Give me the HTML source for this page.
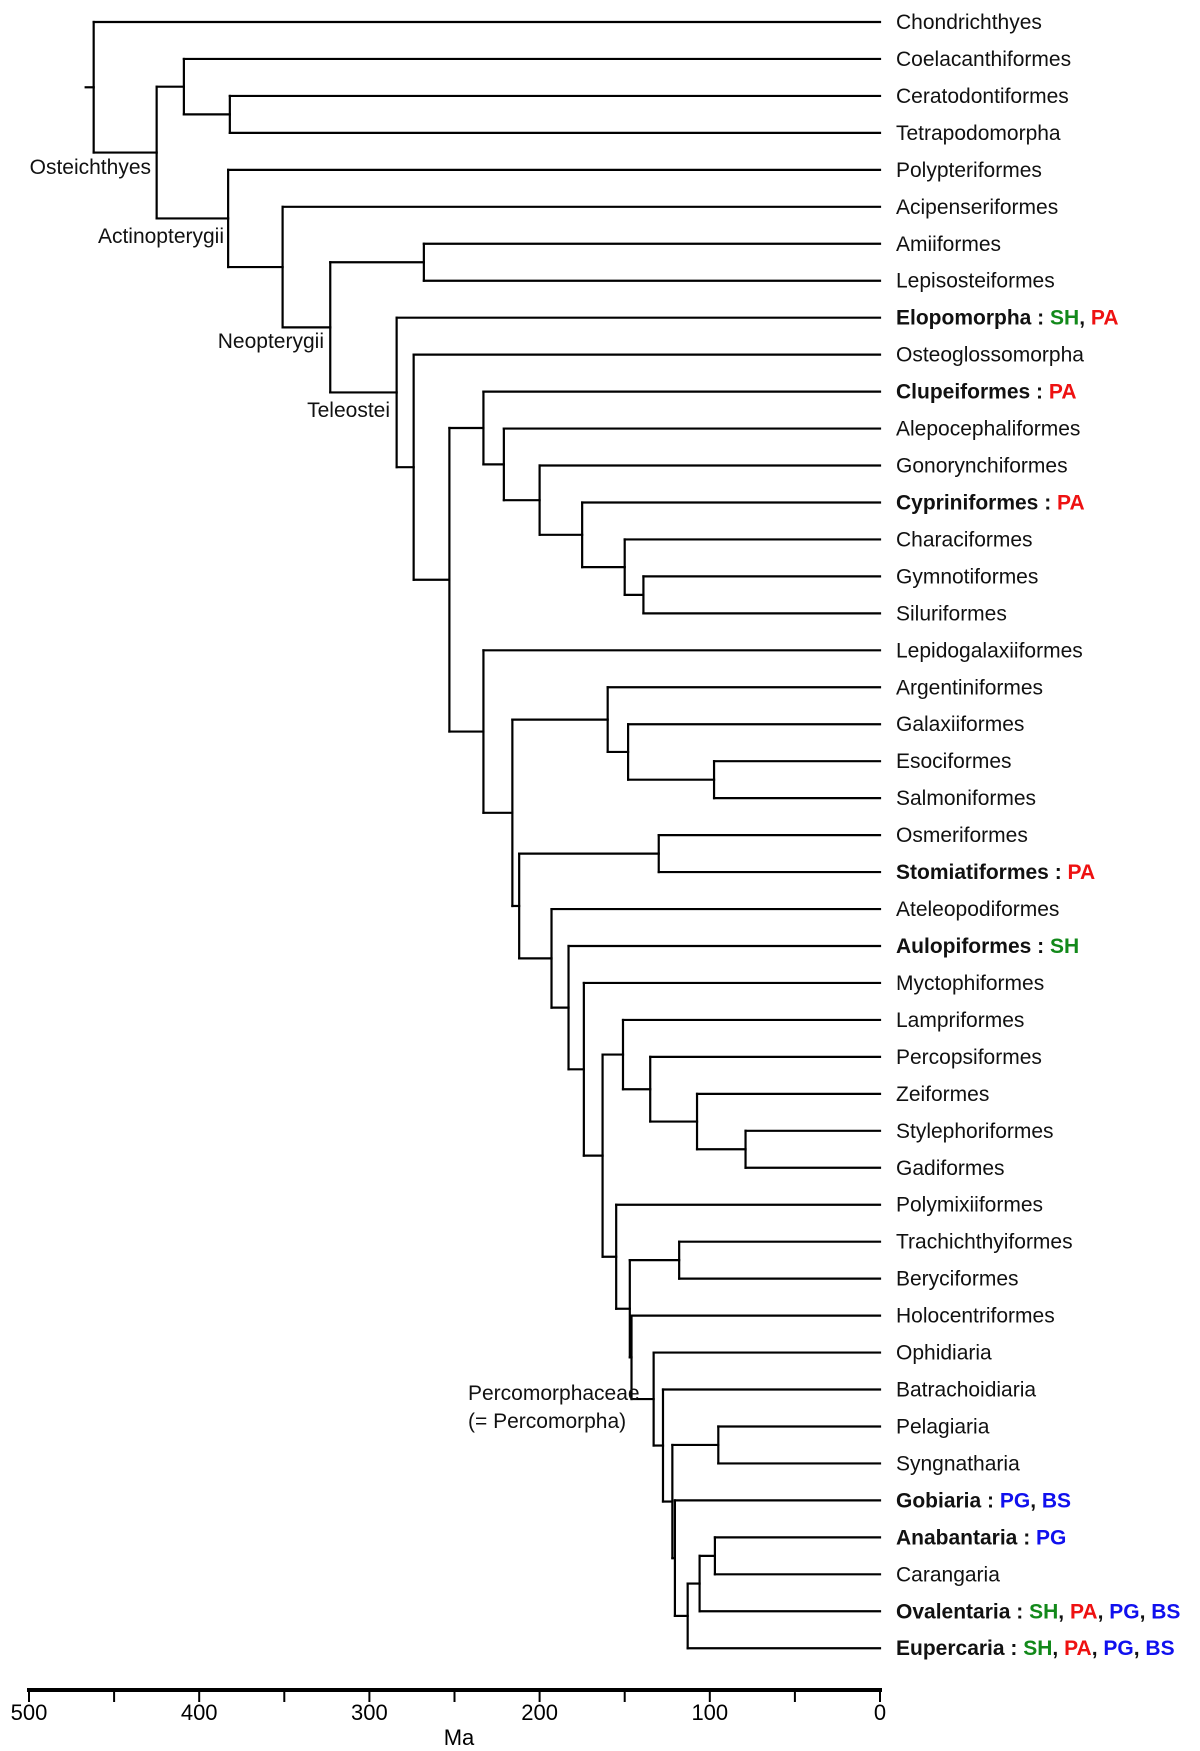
<!DOCTYPE html>
<html><head><meta charset="utf-8">
<style>
html,body{margin:0;padding:0;background:#fff;}
svg{display:block;font-family:"Liberation Sans",sans-serif;}
.lab{font-size:21px;fill:#111;}
</style></head>
<body>
<svg id="chart" width="1200" height="1751" viewBox="0 0 1200 1751">
<g id="branches"></g>
<g id="labels"></g>
<g id="clades">
<text class="lab" x="151" y="174" text-anchor="end">Osteichthyes</text>
<text class="lab" x="224" y="243" text-anchor="end">Actinopterygii</text>
<text class="lab" x="324" y="348" text-anchor="end">Neopterygii</text>
<text class="lab" x="390" y="417" text-anchor="end">Teleostei</text>
<text class="lab" x="468" y="1400">Percomorphaceae</text>
<text class="lab" x="468" y="1428">(= Percomorpha)</text>
</g>
<g id="axis"></g>
</svg>
<script>
const taxa = ["Chondrichthyes","Coelacanthiformes","Ceratodontiformes","Tetrapodomorpha","Polypteriformes","Acipenseriformes","Amiiformes","Lepisosteiformes","Elopomorpha","Osteoglossomorpha","Clupeiformes","Alepocephaliformes","Gonorynchiformes","Cypriniformes","Characiformes","Gymnotiformes","Siluriformes","Lepidogalaxiiformes","Argentiniformes","Galaxiiformes","Esociformes","Salmoniformes","Osmeriformes","Stomiatiformes","Ateleopodiformes","Aulopiformes","Myctophiformes","Lampriformes","Percopsiformes","Zeiformes","Stylephoriformes","Gadiformes","Polymixiiformes","Trachichthyiformes","Beryciformes","Holocentriformes","Ophidiaria","Batrachoidiaria","Pelagiaria","Syngnatharia","Gobiaria","Anabantaria","Carangaria","Ovalentaria","Eupercaria"];
const boldTaxa = ["Elopomorpha","Clupeiformes","Cypriniformes","Stomiatiformes","Aulopiformes","Gobiaria","Anabantaria","Ovalentaria","Eupercaria"];
const tags = {"Elopomorpha":["SH","PA"],"Clupeiformes":["PA"],"Cypriniformes":["PA"],"Stomiatiformes":["PA"],"Aulopiformes":["SH"],"Gobiaria":["PG","BS"],"Anabantaria":["PG"],"Ovalentaria":["SH","PA","PG","BS"],"Eupercaria":["SH","PA","PG","BS"]};
const tagColors = {SH:"#12891a",PA:"#ee1111",PG:"#1010ee",BS:"#1010ee"};
// tree: [age Ma, child, child]; leaves = taxon index
const tree = [462,0,[425,[409,1,[382,2,3]],[383,4,[351,5,[323,[268,6,7],[284,8,[274,9,[253,
  [233,10,[221,11,[200,12,[175,13,[150,14,[139,15,16]]]]]],
  [233,17,[216,[160,18,[148,19,[97.5,20,21]]],[212,[130,22,23],[193,24,[183,25,[174,26,[163,
    [151,27,[135,28,[107.5,29,[79,30,31]]]],
    [155,32,[147,[118,33,34],[146,35,[133,36,[127.5,37,[122,[95,38,39],[120.5,40,[113,[106,[97,41,42],43],44]]]]]]]]
  ]]]]]]]
]]]]]]]];
const axisTicks = [500,450,400,350,300,250,200,150,100,50,0];
const axisLabels = [500,400,300,200,100,0];

const NS="http://www.w3.org/2000/svg";
const X0=880, PX=1.702;
const xOf = ma => X0 - ma*PX;
const yOf = i => 22 + i*36.96;
const gB=document.getElementById('branches'), gL=document.getElementById('labels'), gA=document.getElementById('axis');
function line(g,x1,y1,x2,y2,w,name){
  const l=document.createElementNS(NS,'line');
  l.setAttribute('x1',x1);l.setAttribute('y1',y1);l.setAttribute('x2',x2);l.setAttribute('y2',y2);
  l.setAttribute('stroke','#000');l.setAttribute('stroke-width',w);l.setAttribute('stroke-linecap','square');
  
  
  g.appendChild(l);
}
function draw(node){
  if(typeof node==='number') return {x:X0,y:yOf(node)};
  const x=xOf(node[0]);
  const a=draw(node[1]), b=draw(node[2]);
  line(gB,x,a.y,a.x,a.y,2.2,'branch');
  line(gB,x,b.y,b.x,b.y,2.2,'branch');
  line(gB,x,a.y,x,b.y,2.2,'node-connector');
  return {x:x,y:(a.y+b.y)/2};
}
const root=draw(tree);
line(gB,xOf(tree[0])-8,root.y,xOf(tree[0]),root.y,2.2,'root-stem');

taxa.forEach((t,i)=>{
  const tx=document.createElementNS(NS,'text');
  tx.setAttribute('x',896);tx.setAttribute('y',yOf(i)+7);
  tx.setAttribute('class','lab');
  
  
  const s=document.createElementNS(NS,'tspan');
  s.textContent=t;
  if(boldTaxa.includes(t)) s.setAttribute('font-weight','bold');
  tx.appendChild(s);
  if(tags[t]){
    const c=document.createElementNS(NS,'tspan');c.setAttribute('font-weight','bold');c.textContent=' : ';
    tx.appendChild(c);
    tags[t].forEach((g,k)=>{
      const ts=document.createElementNS(NS,'tspan');ts.setAttribute('font-weight','bold');
      ts.setAttribute('fill',tagColors[g]);ts.textContent=g;tx.appendChild(ts);
      if(k<tags[t].length-1){const cm=document.createElementNS(NS,'tspan');cm.setAttribute('font-weight','bold');cm.textContent=', ';tx.appendChild(cm);}
    });
  }
  gL.appendChild(tx);
});

line(gA,xOf(500),1690,xOf(0),1690,4,'axis-line');
axisTicks.forEach(v=>line(gA,xOf(v),1690,xOf(v),1701,2,'axis-tick'));
axisLabels.forEach(v=>{
  const t=document.createElementNS(NS,'text');
  t.setAttribute('x',xOf(v));t.setAttribute('y',1720);t.setAttribute('text-anchor','middle');
  t.setAttribute('font-size','22');t.textContent=v;
  
  
  gA.appendChild(t);
});
const ma=document.createElementNS(NS,'text');
ma.setAttribute('x',459);ma.setAttribute('y',1745);ma.setAttribute('text-anchor','middle');ma.setAttribute('font-size','22');ma.textContent='Ma';


gA.appendChild(ma);
</script>
</body></html>
